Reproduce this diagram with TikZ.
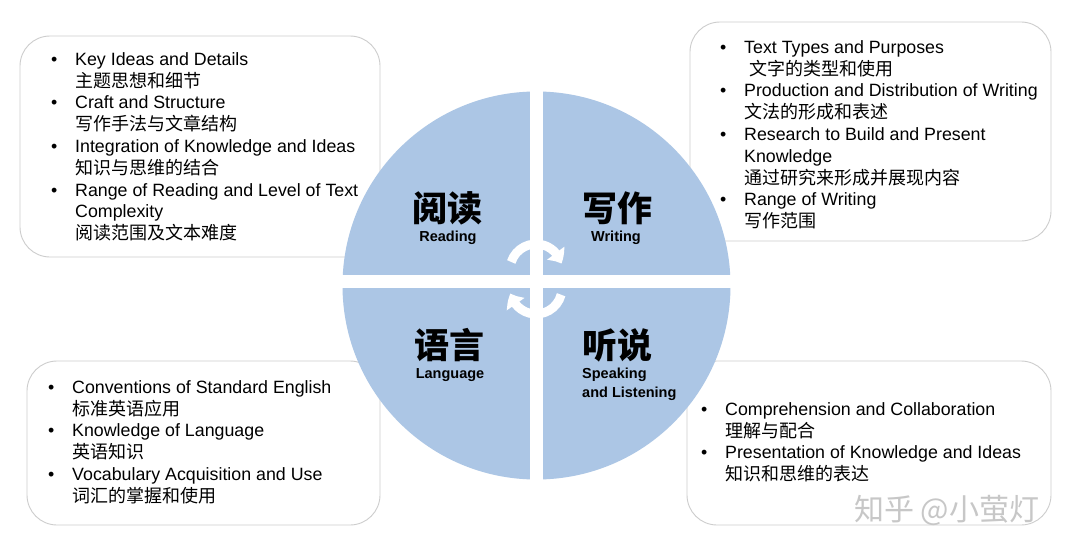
\documentclass[tikz,border=0pt]{standalone}
\usepackage{fontspec}
\setmainfont{Liberation Sans}
\newfontfamily\cjk{Noto Sans CJK SC}
\usetikzlibrary{arrows.meta,bending}
\definecolor{disc}{RGB}{172,198,229}
\definecolor{boxline}{RGB}{205,205,205}
\newcommand{\itm}[1]{\makebox[25pt][l]{\hspace{1pt}•}#1}
\newcommand{\cnt}[1]{\hspace{25pt}{\cjk\fontsize{18}{21.8}\selectfont #1}}
\newcommand{\ctn}[1]{\hspace{25pt}#1}
\tikzset{
  panel/.style={draw=boxline, line width=0.9pt, rounded corners=30pt, fill=white},
  listtext/.style={anchor=north west, inner sep=0pt, align=left, font=\fontsize{17.8}{21.8}\selectfont},
  bigzh/.style={font=\cjk\bfseries\fontsize{35}{40}\selectfont, inner sep=0pt},
  smalllab/.style={font=\bfseries\fontsize{14.5}{19}\selectfont, inner sep=0pt},
  cyc/.style={white, line width=9pt, -{Triangle[length=12pt,width=21pt,bend]}}
}
\begin{document}
\begin{tikzpicture}[x=1pt,y=-1pt]
\useasboundingbox (0,0) rectangle (1080,551);
\fill[white] (0,0) rectangle (1080,551);
% panels
\draw[panel] (20,36) rectangle (380,257);
\draw[panel] (690,22) rectangle (1051,241);
\draw[panel] (27,361) rectangle (380,525);
\draw[panel] (687,361) rectangle (1051,525);
% lists
\node[listtext] (tl) at (50,50) {\rule{0pt}{15pt}\itm{Key Ideas and Details}\\
\cnt{主题思想和细节}\\
\itm{Craft and Structure}\\
\cnt{写作手法与文章结构}\\
\itm{Integration of Knowledge and Ideas}\\
\cnt{知识与思维的结合}\\
\itm{Range of Reading and Level of Text}\\
\ctn{Complexity}\\
\cnt{阅读范围及文本难度}};
\node[listtext] (tr) at (719,38) {\rule{0pt}{15pt}\itm{Text Types and Purposes}\\
\cnt{\hspace{5pt}文字的类型和使用}\\
\itm{Production and Distribution of Writing}\\
\cnt{文法的形成和表述}\\
\itm{Research to Build and Present}\\
\ctn{Knowledge}\\
\cnt{通过研究来形成并展现内容}\\
\itm{Range of Writing}\\
\cnt{写作范围}};
\node[listtext] (bl) at (47,378) {\rule{0pt}{15pt}\itm{Conventions of Standard English}\\
\cnt{标准英语应用}\\
\itm{Knowledge of Language}\\
\cnt{英语知识}\\
\itm{Vocabulary Acquisition and Use}\\
\cnt{词汇的掌握和使用}};
\node[listtext] (br) at (700,400) {\rule{0pt}{15pt}\itm{Comprehension and Collaboration}\\
\cnt{理解与配合}\\
\itm{Presentation of Knowledge and Ideas}\\
\cnt{知识和思维的表达}};
% disc
\coordinate (c) at (536.5,285.5);
\fill[disc] (c) circle[radius=194];
\fill[white] (530,88) rectangle (542.5,482);
\fill[white] (340,275) rectangle (733,288);
% cycle arrows
\coordinate (ct) at (536,270);
\coordinate (cb) at (536,288);
\draw[cyc] ([shift={(198:26)}]ct) arc[start angle=198, end angle=346, radius=26];
\draw[cyc] ([shift={(15:26)}]cb) arc[start angle=15, end angle=168, radius=26];
% labels
\node[bigzh] (rz) at (447,208) {阅读};
\node[smalllab] (re) at (448,238) {Reading};
\node[bigzh] (wz) at (617,208) {写作};
\node[smalllab] (we) at (616,238) {Writing};
\node[bigzh] (lz) at (449,345) {语言};
\node[smalllab] (le) at (450,375) {Language};
\node[bigzh] (sz) at (617,345) {听说};
\node[smalllab, anchor=north west, align=left, font=\bfseries\fontsize{14.5}{18.5}\selectfont] (se) at (582,368) {Speaking\\and Listening};
% watermark
\node[font=\cjk\fontsize{30}{32}\selectfont, text=black!22, anchor=west, inner sep=0pt] (wm) at (854,510) {知乎 @小萤灯};
\end{tikzpicture}
\end{document}
